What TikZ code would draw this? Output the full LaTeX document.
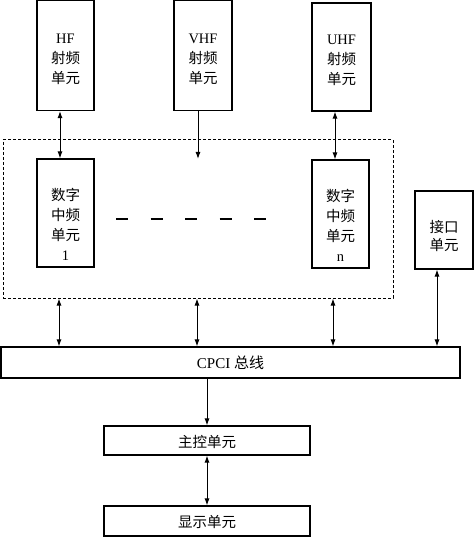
\documentclass[tikz,border=0pt]{standalone}
\usepackage{fontspec}
\setmainfont{Liberation Serif}
\newfontfamily\cjk{Noto Sans CJK SC}
\usetikzlibrary{arrows.meta,calc}
\begin{document}
\begin{tikzpicture}[x=1pt,y=1pt,
  box/.style={draw,line width=1.1pt,inner sep=0pt},
  txt/.style={inner sep=0pt,align=center,font=\fontsize{14.5}{20}\selectfont},
  arr/.style={line width=1pt,{Latex[length=7pt,width=5pt]}-{Latex[length=7pt,width=5pt]}},
  arrone/.style={line width=1pt,-{Latex[length=7pt,width=5pt]}}]
\useasboundingbox (0,0) rectangle (474,-537);
% top RF units
\node[box,minimum width=57,minimum height=110] (HF) at (65.5,-55.5) {};
\node[txt] (HFt) at ($(HF)+(0,-4)$) {HF\\{\cjk 射频}\\{\cjk 单元}};
\node[box,minimum width=58,minimum height=110] (VHF) at (203,-55.5) {};
\node[txt] (VHFt) at ($(VHF)+(0,-4)$) {VHF\\{\cjk 射频}\\{\cjk 单元}};
\node[box,minimum width=59,minimum height=108] (UHF) at (341.5,-57) {};
\node[txt] (UHFt) at ($(UHF)+(0,-3)$) {UHF\\{\cjk 射频}\\{\cjk 单元}};
% dashed group
\node[draw,line width=1pt,dash pattern=on 3pt off 2pt,minimum width=390,minimum height=158,inner sep=0pt] (grp) at (198,-219) {};
\node[box,minimum width=57,minimum height=108] (D1) at (65.5,-213) {};
\node[txt] (D1t) at ($(D1)+(0,-11)$) {{\cjk 数字}\\{\cjk 中频}\\{\cjk 单元}\\1};
\node[box,minimum width=57,minimum height=108] (Dn) at (340.5,-214) {};
\node[txt] (Dnt) at ($(Dn)+(0,-11)$) {{\cjk 数字}\\{\cjk 中频}\\{\cjk 单元}\\n};
\coordinate (dA) at (116,-219);
\coordinate (dB) at (266,-219);
\draw[line width=1.2pt,dash pattern=on 12pt off 22.5pt] (dA) -- (dB);
\node[box,minimum width=58,minimum height=78] (IF) at (444,-230) {};
\node[txt,font=\fontsize{14.5}{18.5}\selectfont] (IFt) at ($(IF)+(0,-6)$) {{\cjk 接口}\\{\cjk 单元}};
% bus and control
\node[box,minimum width=459,minimum height=31,font=\fontsize{15}{18}\selectfont] (bus) at (230.5,-362.5) {CPCI {\cjk 总线}};
\node[box,minimum width=206,minimum height=29,font=\fontsize{14.5}{18}\selectfont] (main) at (207,-440.5) {};
\node[txt] (maint) at ($(main)+(0,-1.5)$) {\cjk 主控单元};
\node[box,minimum width=206,minimum height=30] (disp) at (207,-521) {};
\node[txt] (dispt) at ($(disp)+(0,-1)$) {\cjk 显示单元};
% connectors
\coordinate (vend) at (198,-159);
\draw[arr] (HF.south -| 60,0) -- (D1.north -| 60,0);
\draw[arrone] (VHF.south -| 198,0) -- (vend);
\draw[arr] (UHF.south -| 335,0) -- (Dn.north -| 335,0);
\draw[arr] (grp.south -| 59,0) -- (bus.north -| 59,0);
\draw[arr] (grp.south -| 197,0) -- (bus.north -| 197,0);
\draw[arr] (grp.south -| 333,0) -- (bus.north -| 333,0);
\draw[arr] (IF.south -| 437,0) -- (bus.north -| 437,0);
\draw[arrone] (bus.south -| main.north) -- (main.north);
\draw[arr] (main.south) -- (disp.north);
\end{tikzpicture}
\end{document}
